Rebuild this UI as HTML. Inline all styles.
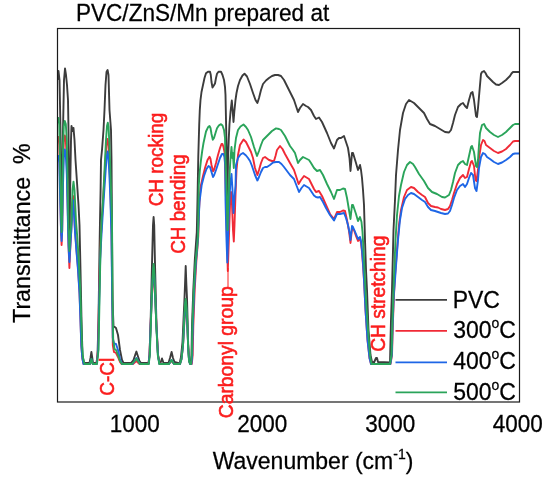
<!DOCTYPE html>
<html><head><meta charset="utf-8"><title>FTIR</title>
<style>html,body{margin:0;padding:0;background:#fff}body{width:550px;height:480px;overflow:hidden}</style>
</head><body>
<svg width="550" height="480" viewBox="0 0 550 480" style="display:block" font-family="'Liberation Sans', sans-serif">
<rect width="550" height="480" fill="#fff"/>
<clipPath id="c"><rect x="57.5" y="28.5" width="462" height="373.5"/></clipPath>
<g clip-path="url(#c)">
<polyline points="57.5,80 58.5,71 59.5,80 60.5,130 61.5,235 63,130 64,80 65,68.5 66,75 67,85 68,100 68.5,130 69.2,200 69.5,255 70,200 71,140 71.5,126 72.5,131 73.5,128 74.5,140 75.5,160 76.5,175 77.5,190 78.5,205 79.5,225 80.5,270 81.5,320 82.5,355 84,363 89.5,363 90.5,358 91.4,352 92.3,358 93,363 96.5,363 97.5,355 98.5,320 99.5,250 100,221 100.6,190 101,160 102,150 103.5,130 104.5,110 105.5,85 106.5,72 107.6,70 108.5,75 109.5,110 111,130 111.5,160 112,230 112.5,300 113.5,326 116,328 118,335 120,350 122,360 123.5,363 131,363 133.5,360 135.5,354 136.4,351.6 137.5,355 139.5,361 141,363 148.5,363 149.5,355 150.5,326 152,264 153,225 153.6,217 154.2,225 155,264 156.5,326 158,355 159.5,363 160.5,363 162,358.5 163.5,363 168.5,363 170,358 171.6,352 173,358 174.5,362 179.6,363.5 181,357 182.5,342 183.5,320 184.5,298 185,285 185.7,266 186.4,285 187,298 187.6,320 188.2,345 189,360 190,363 190.8,363 191.5,355 192,326 193.3,290 194.8,260 196,243 196.8,232 197.5,200 198.3,156 199.2,125 199.8,110 200.5,100 201.5,92 203,85 204.5,78 206,73.3 208,71.7 210,71.7 210.8,75 211.5,82 212.5,87.5 213.5,86 215,83.5 216,78 217,73.7 218.5,71.7 221,71.7 222.5,75 224,80 225,87 225.5,95 226,120 226.8,160 227.4,205 228,160 228.8,138 229.5,124 230.5,112 231.8,100.5 232.6,110 233.5,122 234.3,112 235.5,100 236.5,93 238,86 240,80 242.5,75.5 244.5,73.7 247,76.5 250,84 253,93 255.5,100 257.4,103 259,98 261,90 263,84 266,80.5 269,78 272,76 275,75 278,75 281,76 284,80 286.5,85 289,90 291,94 294,100 296,106 298,112 300,108 303,104 306,106 308,107 311,110 314,116 316,119 319,117.5 322,122 327,133 331,143 334,148.5 337,140 339,138 341,138 344,136 346,142 348,148 349.5,158 350.5,171 352,153 353,153 356,163 358,170 360,165 361,170 362,178 363,190 364,205 365,240 366,270 367,290 368.5,330 370.5,355 372,362 374,362.5 376,358 377,358 378,362 390,362.5 391,320 392,290 392.5,270 393.5,230 395,200 396,175 398,150 400,130 403,113 406,104 409,100 414,103 419,108 424,113 427,119 430,124 435,126 440,129 445,132 449,132.5 451,130 453,123 455,115 458,107 461,104 463,103 465,106 467,108 469,100 471,93 472.5,92 474,100 476,116 477,117 478,108 480,85 481,74 482,72 484,71 485.5,73 487,76 490,79 493,82 496,84.5 499,85 502,83 506,80 510,76 511.5,73.5 513,72 519,72" fill="none" stroke="#3c3c3c" stroke-width="1.9" stroke-linejoin="round" stroke-linecap="butt"/>
<polyline points="57.5,142 58.5,137 59.3,145 60.2,190 61,230 61.6,245 62.2,230 63,170 63.8,142 64.8,135.5 65.8,140 66.8,160 67.6,200 68.5,245 69.4,268 70.2,250 71.5,225 72.3,205 73,196 73.8,205 75,230 76.5,250 78,268 79.5,292 80.5,320 81.3,345 82.3,358 83.5,364 90,364 91.4,360 92.8,364 96.5,364 98,350 99,300 100,260 101,235 102.5,210 104,185 105.5,160 106.5,145 107.6,139 108.6,146 109.5,165 110.5,195 111.5,230 112.3,300 112.8,345 114,352 116,353 118,357 120,362 121.5,364 133,364 136.4,361 139.5,364 148.5,364 149.5,355 150.5,326 152,295 153,278 153.6,272 154.2,278 155,295 156.5,326 158,355 159.6,364 169,364 171.6,361 174,364 180,364 181.5,359 183,346 184.2,325 185,310 185.6,305 186.3,310 187.2,325 188.3,348 189.2,361 190.2,364 191.8,364 192.7,355 193.3,326 194.7,290 196.3,262 197.5,247 198.3,236 199,210 200,194 201,185 203,176 205,168 207.5,160 209.5,156.7 210.5,159 211.5,165 213,171.3 214,170 216,163 218,155 220,148 221.5,144 222.5,144 223.5,147 224.5,152 225,165 226,200 227,240 227.8,271 229,235 230,205 231,192 232,205 233,230 233.8,241.5 234.5,225 235.5,195 236.5,170 238,155 240,145 243.5,139.5 246,142 248,146 251,152 253,158 255,168 257.4,175 259,170 261,163 263,158 265,157 267,158.5 269,160 272,161 274,161 275.5,156 277,150 280,146 282.5,149 285,154 287.5,158.5 290,163 292,166.5 294,170 296,176 298.6,184 301,180 304,176 306.5,177.5 309,179 311,183 314,189 316,192 319,191 322,196 326,205 330,214 334,219 337,212 340,212 343,210.5 345,211 347,220 349,231 350.5,243 352,229 354,230 356,236 358,241 360,238.5 361,243 362,252 363,265 364,280 365.5,310 367.5,340 369.5,358 371,364 390.5,364 392,355 393,320 394,295 395,276 397,250 399,225 401,210 404,197 407,190 411,187 414,188 418,192 422,195 425,197 428,203 431,206 435,207 438,207.5 441,209 445,210 448,209 450,206 452,200 454,193 457,184 460,178 463,175 465,178 467,177 469,169 471,162 472,161 474,166 475.5,180 476.5,181 478,170 479,158 481,145 483,140 484.5,141 486,145 490,148 494,151 498,153 502,151.5 506,149 510,145 513,141.5 515,141 519,141" fill="none" stroke="#f02a36" stroke-width="1.9" stroke-linejoin="round" stroke-linecap="butt"/>
<polyline points="57.5,160 58.5,156 59.3,163 60.2,200 61,230 61.6,241 62.2,230 63,185 63.8,158 64.8,149.5 65.8,155 66.8,175 67.6,210 68.5,246 69.4,262 70.2,248 71.5,228 72.3,210 73,200 73.8,210 75,232 76.5,252 78,270 79.5,294 80.5,322 81.3,346 82.3,358 83.5,364 90,364 91.4,359 92.8,364 96.8,364 98.2,350 99.2,300 100.2,260 101.2,240 102.7,215 104.2,192 105.7,170 106.7,157 107.6,151.5 108.5,158 109.4,175 110.4,200 111.4,235 112.2,300 112.8,338 114,343.5 116,344 118,350 120,359 122,364 132.5,364 134.5,361 136.4,358 138.2,361 140,364 148.6,364 149.6,355 150.6,326 152,292 153,274 153.6,268 154.2,274 155,292 156.4,326 157.9,355 159.4,364 169,364 171.6,360 174,364 180,364 181.5,359 183,346 184.2,323 185,308 185.6,302 186.3,308 187.2,323 188.2,348 189.1,361 190.1,364 191.4,364 192.2,355 192.8,326 194.2,290 195.9,262 197.2,248 197.9,238 199.5,202 201.7,185 204,176 206.5,169 208.5,166 210,167 211.5,172 213,177 214,175.5 216,170 218,164 220,158 222,154 223.5,154 224.5,157 225.2,165 225.5,200 226.5,240 227.3,262.5 228,240 229,210 230.2,185 231.5,174 232.5,190 233.5,213 234.3,200 235.5,186 236,165 238,158 240.5,154.5 243,153 246,155.5 248,158 250,161 252,166 255,175 257.4,180.5 259,177 261,172 263,168 265,167 267,167 270,165 273,162.5 276,162 279,162 281.5,164 284,167 287,171 290,175 292,177 294,179 296.5,185.5 299,192 301.5,188 304,185 306.5,186.5 309,188 311,191 314,195.5 316,197 318,197.5 320,197 323,202 326,208 330,215 334,220.5 337,214 340,214 344,213 346,218 348,225 350,235 350.5,240 352,226 353,227 356,234 358,239 360,237 361,241 362,250 363,263 364,280 365.5,310 367.5,340 369.5,358 371,364 390.3,364 391.8,355 392.8,320 393.8,295 395,280 396,266 398,240 400,220 402,208 405,199 408,195 411,193 414,194 418,197 422,200 425,202 428,207 431,210 435,211 438,212 441,213 445,214 448,213.5 450,211 452,205 454,198 457,190 460,186 463,184 465,187 467,184 469,178 471,173 473,175 475,188 476.5,191 478,180 479,168 481,157 483,153 485,154 487,157 490,159 494,162 498,164 502,162.5 506,160 510,157 513,154 515,153.5 519,153.5" fill="none" stroke="#1e66e6" stroke-width="1.9" stroke-linejoin="round" stroke-linecap="butt"/>
<polyline points="57.5,123 58.5,118 59.3,125 60.2,170 61,212 61.6,232 62.2,212 63,150 63.8,126 64.8,121 65.8,124 66.8,140 67.6,180 68.5,228 69.4,251 70.2,236 71.5,221 72.5,190 73.5,181.6 74.5,190 76,221 77.5,240 79,265 80.3,290 81.2,320 82,345 83,358 84.5,364 90,364 91.4,359 92.8,364 97,364 98.5,350 99.5,300 100.5,250 101.5,221 103,200 104,180 105,160 106,140 107,126 107.8,122.7 108.6,127 109.4,145 110,160 111,190 112,221 112.6,300 113.2,340 114.5,349 116,350 118,355 120,361 122,364 132,364 134.5,361 136.4,358.5 138,361 140,364 148.8,364 149.8,355 150.8,326 152,290 153,270 153.6,264 154.2,270 155,290 156.3,326 157.8,355 159.3,364 169,364 171.6,360 174,364 180,364 181.5,359 183,345 184.2,320 185,305 185.6,299 186.3,305 187.2,320 188.2,348 189,361 190,364 191,364 191.8,355 192.4,326 193.8,290 195.5,262 196.8,250 198,236 198.4,210 198.8,185 199.8,171 201,160 202.2,151 203.5,143 206,131.5 208,127.3 209.5,126 210.5,128 211.5,134 212.8,139.7 214,138 215.5,133 217,128.3 219,125.3 221,124.2 222.5,125.5 224,130 225,138 225.5,160 226.5,186 227.5,230 228.5,200 229.5,175 230.5,158 231.5,147 232.3,158 232.8,153 233.8,168 234.5,150 236,138 238,130 240.5,126.5 243.5,124.5 246,127 248,130 251,137 254,147 257,156 259,151 261,145 263,140 266,137 269,134 272,131 276,128.4 279,129 281,130 283,133 285,136 288,142 290,146 293,150 295,153 296.5,158 298,163 300,160 303,157 306,158.5 309,160 311,163 314,168 317,171 320,170 323,175 327,184 331,192 334,199 337,190 340,190 343,188.5 345,189 347,198 349,210 350.5,219 352,205 353,205 356,214 358,221 360,217 361.5,222 362.5,232 363.5,250 364.5,270 366,300 368,330 370,355 371.5,364 390,364 391.5,355 392.5,320 393.5,290 394,276 395.5,240 397,215 399,196 401,185 404,172 407,165 410,162 413,164 415,167 419,174 424,181 428,188 432,192 437,194 442,197 445,197.5 449,195 451,190 453,182 455,173 458,165 461,162 463,161 465,164 467,165 469,156 471,147 472,146 474,152 476,166 477,167 478,160 479,145 480,133 482,125 484,124 486,128 490,132 494,135 498,137 502,135 506,132 510,128 513,125 515,124 519,124" fill="none" stroke="#2aa45a" stroke-width="1.9" stroke-linejoin="round" stroke-linecap="butt"/>
</g>
<line x1="395.5" y1="299.8" x2="447" y2="299.8" stroke="#3c3c3c" stroke-width="1.8"/>
<line x1="395.5" y1="330.9" x2="447" y2="330.9" stroke="#f02a36" stroke-width="1.8"/>
<line x1="395.5" y1="362.3" x2="447" y2="362.3" stroke="#1e66e6" stroke-width="1.8"/>
<line x1="395.5" y1="392.4" x2="447" y2="392.4" stroke="#2aa45a" stroke-width="1.8"/>
<rect x="57.5" y="28.5" width="462" height="373.5" fill="none" stroke="#1a1a1a" stroke-width="1.2"/>
<text transform="translate(76,20.6) scale(1,1.06)" font-size="23.0" fill="#000" stroke="#000" stroke-width="0.25" text-anchor="start" xml:space="preserve" textLength="253.2" lengthAdjust="spacingAndGlyphs">PVC/ZnS/Mn prepared at</text>
<text transform="translate(134.7,432) scale(1,1.06)" font-size="22.5" fill="#000" stroke="#000" stroke-width="0.25" text-anchor="middle" xml:space="preserve">1000</text>
<text transform="translate(262.2,432) scale(1,1.06)" font-size="22.5" fill="#000" stroke="#000" stroke-width="0.25" text-anchor="middle" xml:space="preserve">2000</text>
<text transform="translate(390.2,432) scale(1,1.06)" font-size="22.5" fill="#000" stroke="#000" stroke-width="0.25" text-anchor="middle" xml:space="preserve">3000</text>
<text transform="translate(517.8,432) scale(1,1.06)" font-size="22.5" fill="#000" stroke="#000" stroke-width="0.25" text-anchor="middle" xml:space="preserve">4000</text>
<text transform="translate(212.7,468.8) scale(1,1.06)" font-size="23.0" fill="#000" stroke="#000" stroke-width="0.25" text-anchor="start" xml:space="preserve">Wavenumber (cm<tspan font-size="14" dy="-9">-1</tspan><tspan dy="9">)</tspan></text>
<text transform="translate(30.2,322.9) rotate(-90) scale(1,1.06)" font-size="23.0" fill="#000" stroke="#000" stroke-width="0.25" text-anchor="start" xml:space="preserve" textLength="179.5" lengthAdjust="spacingAndGlyphs">Transmittance  %</text>
<text transform="translate(452.7,307.6) scale(1,1.06)" font-size="23.0" fill="#000" stroke="#000" stroke-width="0.25" text-anchor="start" xml:space="preserve">PVC</text>
<text transform="translate(453.2,338.2) scale(1,1.06)" font-size="23.0" fill="#000" stroke="#000" stroke-width="0.25" text-anchor="start" xml:space="preserve">300<tspan font-size="14" dy="-9.5">o</tspan><tspan dy="9.5">C</tspan></text>
<text transform="translate(453.2,369.4) scale(1,1.06)" font-size="23.0" fill="#000" stroke="#000" stroke-width="0.25" text-anchor="start" xml:space="preserve">400<tspan font-size="14" dy="-9.5">o</tspan><tspan dy="9.5">C</tspan></text>
<text transform="translate(453.2,400) scale(1,1.06)" font-size="23.0" fill="#000" stroke="#000" stroke-width="0.25" text-anchor="start" xml:space="preserve">500<tspan font-size="14" dy="-9.5">o</tspan><tspan dy="9.5">C</tspan></text>
<text transform="translate(113.6,395.8) rotate(-90) scale(1,1.06)" font-size="19.25" fill="#fb1d1d" stroke="#fb1d1d" stroke-width="0.55" textLength="38" lengthAdjust="spacingAndGlyphs">C-Cl</text>
<text transform="translate(162.5,206.3) rotate(-90) scale(1,1.06)" font-size="19.25" fill="#fb1d1d" stroke="#fb1d1d" stroke-width="0.55" textLength="93.5" lengthAdjust="spacingAndGlyphs">CH rocking</text>
<text transform="translate(185,253.8) rotate(-90) scale(1,1.06)" font-size="19.25" fill="#fb1d1d" stroke="#fb1d1d" stroke-width="0.55" textLength="99.5" lengthAdjust="spacingAndGlyphs">CH bending</text>
<text transform="translate(233,418.3) rotate(-90) scale(1,1.06)" font-size="19.25" fill="#fb1d1d" stroke="#fb1d1d" stroke-width="0.55" textLength="132" lengthAdjust="spacingAndGlyphs">Carbonyl group</text>
<text transform="translate(384.5,351.8) rotate(-90) scale(1,1.06)" font-size="19.25" fill="#fb1d1d" stroke="#fb1d1d" stroke-width="0.55" textLength="116.2" lengthAdjust="spacingAndGlyphs">CH stretching</text>
<line x1="228" y1="287" x2="228" y2="268" stroke="#fb1d1d" stroke-width="1"/>
</svg>
</body></html>
